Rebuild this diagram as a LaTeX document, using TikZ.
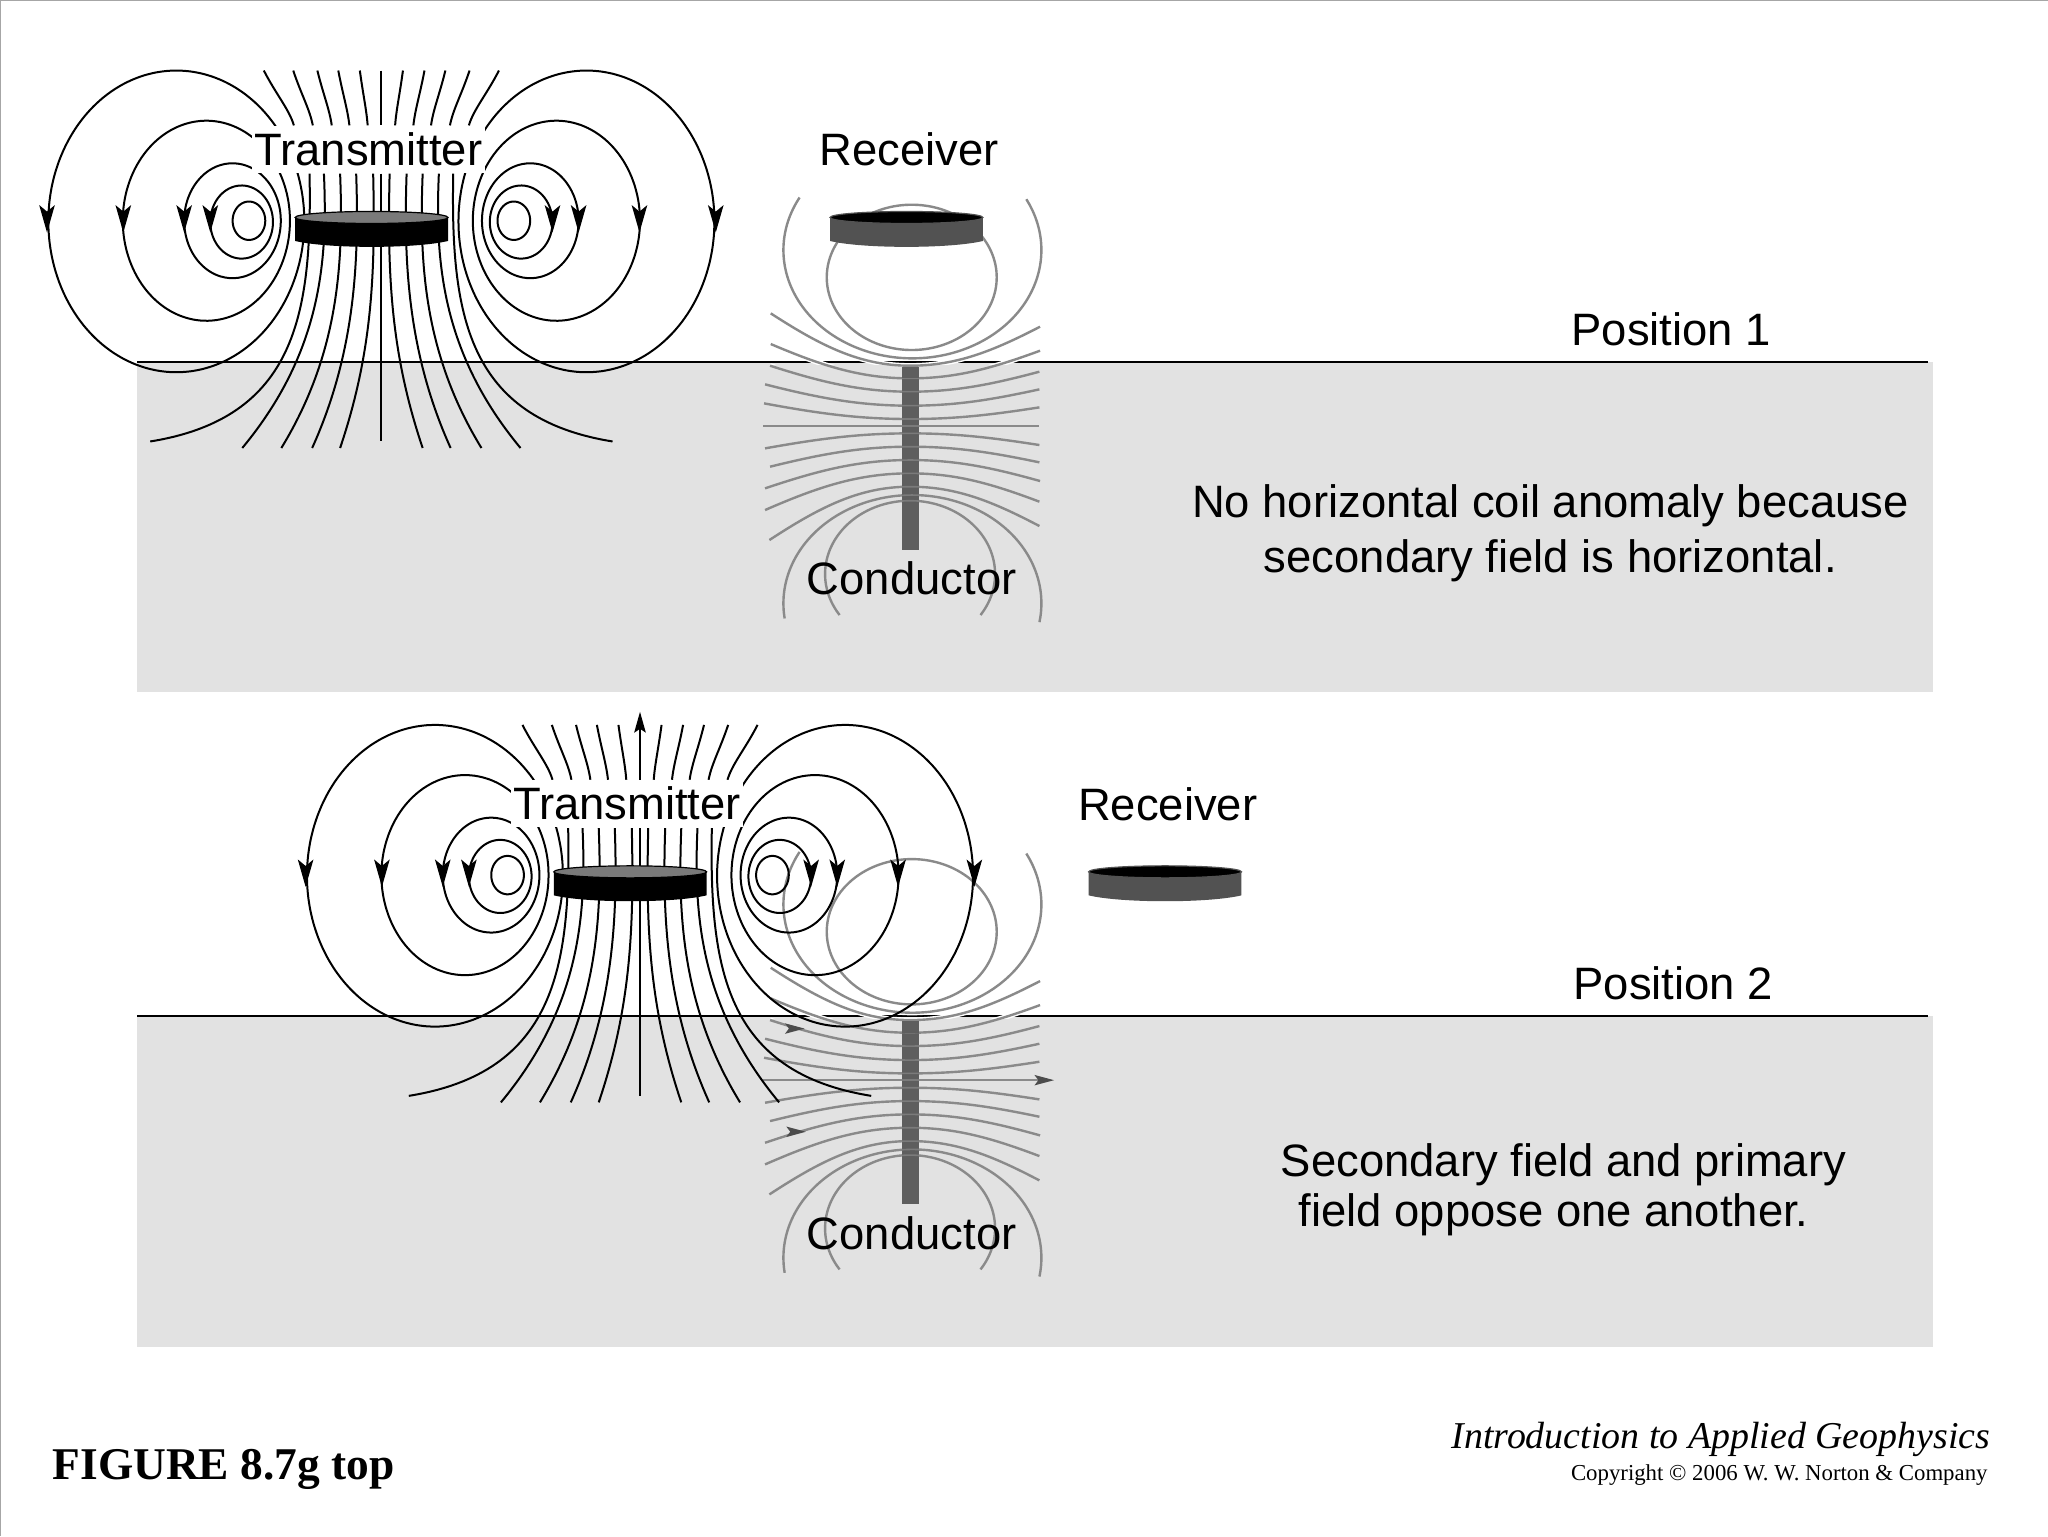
\documentclass[tikz,border=0pt]{standalone}
\usepackage{fontspec}
\setmainfont{Liberation Sans}
\newfontfamily\serifx{Liberation Serif}
\definecolor{groundgray}{HTML}{E2E2E2}
\definecolor{secgray}{HTML}{8A8A8A}
\definecolor{barcol}{HTML}{5E5E5E}
\definecolor{recbody}{HTML}{525252}
\definecolor{txface}{HTML}{7A7A7A}
\tikzset{
  pri/.style={draw=black,line width=1pt},
  sec/.style={draw=secgray,line width=1.2pt},
  lab/.style={inner sep=0pt,font=\fontsize{22.7}{27}\selectfont},
}
% elliptical arc: cx cy rx ry from to
\newcommand\earc[7][pri]{\draw[#1] plot[variable=\t,domain=#6:#7,samples=70,smooth] ({#2+#4*cos(\t)},{#3+#5*sin(\t)});}
% gray field line in zoom coordinates: Lx Ly Cy Rx Ry
\newcommand\secln[5]{\draw[sec] (#1,#2) .. controls ({#1+0.36*(570-#1)},{#2+0.62*(#3-#2)}) and ({570-0.36*(570-#1)},#3) .. (570,#3)
   .. controls ({570+0.36*(#4-570)},#3) and ({#4-0.36*(#4-570)},{#5+0.62*(#3-#5)}) .. (#4,#5);}
\newcommand\secondary{%
 \begin{scope}[shift={(551.3,91.9)},scale=0.2552]
  \earc[sec]{575}{472}{255}{218}{0}{360}
  \earc[sec]{577}{390}{387}{325}{209}{-28}
  \secln{152}{580}{737}{960}{620}
  \secln{152}{672}{775}{960}{692}
  \secln{150}{737}{815}{958}{755}
  \secln{135}{793}{857}{958}{808}
  \secln{132}{850}{897}{958}{862}
  \draw[sec] (130,917) -- (958,917);
  \secln{135}{985}{940}{958}{975}
  \secln{150}{1040}{980}{958}{1027}
  \secln{135}{1105}{1020}{960}{1083}
  \secln{135}{1170}{1060}{958}{1145}
  \secln{148}{1260}{1100}{958}{1218}
  \earc[sec]{577}{1450}{387}{325}{172}{370}
  \earc[sec]{570}{1362}{255}{220}{146}{394}
 \end{scope}}
% conductor bar with the field lines faintly showing through
\newcommand\condbar{%
 \fill[barcol] (690.4,281) rectangle (703.6,421);
 \begin{scope}
  \clip (690.4,290) rectangle (703.6,385);
  \begin{scope}[sec/.style={draw=white,opacity=0.18,line width=0.8pt}]\secondary\end{scope}
 \end{scope}}
\newcommand\loophead[1]{\fill (#1-6,157) -- (#1,178) -- (#1+6,157) -- (#1,162) -- cycle;}
\newcommand\primary{%
 \foreach \s in {-1,1}{%
  \foreach \a/\b in {16.5/10.5,33/24.5,49/38,67.5/52.5,90/67}{%
   \draw[pri] ({292+\s*\a},54) .. controls ({292+\s*(0.6*\a+0.4*\b)},72) and ({292+\s*(0.85*\b+0.15*\a)},84) .. ({292+\s*\b},96);}
  \foreach \a/\ba/\by/\ca/\cy/\c/\e in {6.3/4.5/210/7/270/31.6/343,19.3/17/200/20/270/53/343,31.6/29/200/32/270/76.6/343,44/41/200/46/270/106.5/343,55/53/240/65/320/177/338}{%
   \draw[pri] ({292+\s*\a},133) .. controls ({292+\s*\ba},\by) and ({292+\s*\ca},\cy) .. ({292+\s*\c},\e);}
  \foreach \cx/\rx/\cy/\ry in {135/98/169.5/115.5,158/64/169/76.6,178/37/169/44,185/24/170/28,190.6/12.5/169/14.7}{%
   \earc{292+\s*(292-\cx)}{\cy}{\rx}{\ry}{0}{360}}
  \foreach \ax in {256,197.6,151,131}{\loophead{292+\s*\ax}}
 }
 \draw[pri] (292,54) -- (292,96);
 \draw[pri] (292,133) -- (292,338);
}
% flat disc: x1 x2 body face
\newcommand\disc[4]{%
 \fill[#3] (#1,166.5) -- (#1,184.5) .. controls ({#1+25},190.5) and ({#2-25},190.5) .. (#2,184.5) -- (#2,166.5) -- cycle;
 \draw[#3,fill=#4,line width=0.6pt] ({(#1+#2)/2},166.5) ellipse [x radius={(#2-#1)/2},y radius=4.6];}
\begin{document}
\begin{tikzpicture}[x=0.653061pt,y=-0.653061pt]
\useasboundingbox (0,0) rectangle (1568,1176);
\fill[white] (0,0) rectangle (1568,1176);
\draw[gray!70,line width=0.8pt] (0.5,1176) -- (0.5,0.5) -- (1568,0.5);

% ---------- panel 1
\fill[groundgray] (105,277) rectangle (1480,530);
\draw[black,line width=1.3pt] (105,277) -- (1476,277);
\begin{scope}
 \clip (105,275.3) rectangle (1476,278.7);
 \begin{scope}[sec/.style={draw=white,line width=2.6pt}]\secondary\end{scope}
\end{scope}
\secondary
\condbar
\primary
\node[lab,fill=white,minimum width=178*0.653061pt,minimum height=36*0.653061pt] (tx1) at (282,114.5) {Transmitter};
\disc{226}{343}{black}{txface}
\disc{635.5}{752.5}{recbody}{black}
\node[lab] (rx1) at (696,114.5) {Receiver};
\node[lab] (cond1) at (698,443) {Conductor};
\node[lab] (pos1) at (1279.5,252) {Position 1};
\node[lab,align=center,font=\fontsize{22.7}{27.4}\selectfont] (note1) at (1187,408) {No horizontal coil anomaly because\\secondary field is horizontal.};

% ---------- panel 2
\fill[groundgray] (105,778) rectangle (1480,1031);
\draw[black,line width=1.3pt] (105,778) -- (1476,778);
\begin{scope}
 \clip (105,776.3) rectangle (1476,779.7);
 \begin{scope}[shift={(0,501)},sec/.style={draw=white,line width=2.6pt}]\secondary\end{scope}
\end{scope}
\begin{scope}[shift={(0,501)}]
 \secondary
 \condbar
\end{scope}
\begin{scope}[shift={(198,501)}]
 \primary
 \draw[pri] (292,54) -- (292,50);
 \fill (292,44) -- (296.5,60) -- (292,57) -- (287.5,60) -- cycle;
\end{scope}
\node[lab,fill=white,minimum width=178*0.653061pt,minimum height=36*0.653061pt] (tx2) at (480,615) {Transmitter};
\begin{scope}[shift={(198,501)}]
 \disc{226}{343}{black}{txface}
 \disc{635.5}{752.5}{recbody}{black}
\end{scope}
\node[lab] (rx2) at (894,615.5) {Receiver};
\node[lab] (cond2) at (698,944) {Conductor};
\node[lab] (pos2) at (1281,753) {Position 2};
\node[lab] (note2a) at (1197,892) {Secondary field and primary};
\node[lab] (note2b) at (1189.5,930) {field oppose one another.};
\foreach \p/\q in {609/787.5,610/866.5,800/827}{%
 \fill[black!70] (\p-8,\q-4) -- (\p+7,\q) -- (\p-8,\q+4) -- (\p-5,\q) -- cycle;}

% ---------- footer
\node[inner sep=0pt,anchor=west,font=\serifx\bfseries\fontsize{22.7}{26}\selectfont] (fig) at (40,1125) {FIGURE 8.7g top};
\node[inner sep=0pt,anchor=east,font=\serifx\itshape\fontsize{18.95}{22}\selectfont] (book) at (1524,1102) {Introduction to Applied Geophysics};
\node[inner sep=0pt,anchor=east,font=\serifx\fontsize{11.4}{14}\selectfont] (copy) at (1522,1129) {Copyright © 2006 W. W. Norton \& Company};
\end{tikzpicture}
\end{document}
